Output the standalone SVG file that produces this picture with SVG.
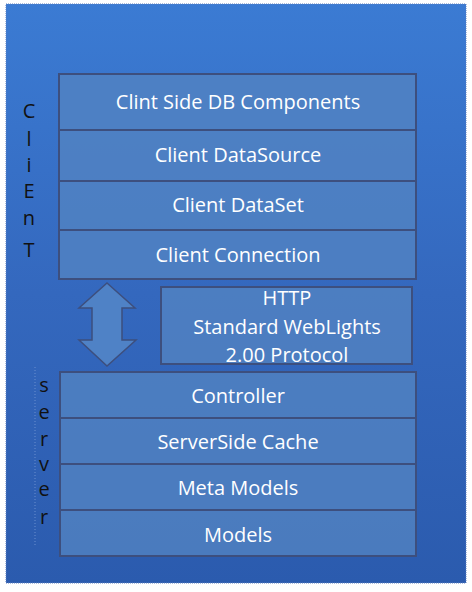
<svg xmlns="http://www.w3.org/2000/svg" width="472" height="592" viewBox="0 0 472 592">
<defs>
<linearGradient id="bg" x1="0" y1="0" x2="0" y2="1">
<stop offset="0" stop-color="#3b7bd3"/>
<stop offset="0.5" stop-color="#3468be"/>
<stop offset="1" stop-color="#2b5bae"/>
</linearGradient>
<style>
.box{fill:#5383c2;fill-opacity:0.8;stroke:#3d4f7e;stroke-width:2}
.lbl{font-family:"Open Sans","Liberation Sans",sans-serif;font-size:20px;fill:#ffffff;text-anchor:middle}
.side{font-family:"Open Sans","Liberation Sans",sans-serif;font-size:20px;fill:#111;text-anchor:middle}
</style>
</defs>
<rect x="6" y="4" width="460" height="579" fill="url(#bg)" stroke="#5a7fc0" stroke-width="1" stroke-dasharray="1 1"/>
<g id="client-label">
<text class="side" x="29" y="118">C</text>
<text class="side" x="29" y="146">l</text>
<text class="side" x="29" y="172">i</text>
<text class="side" x="29" y="198">E</text>
<text class="side" x="29" y="225">n</text>
<text class="side" x="29" y="257">T</text>
</g>
<g id="server-label">
<line x1="35" y1="367" x2="35" y2="545" stroke="#6a8fcf" stroke-width="1" stroke-dasharray="1 2"/>
<text class="side" x="44" y="392">s</text>
<text class="side" x="44" y="419">e</text>
<text class="side" x="44" y="446">r</text>
<text class="side" x="44" y="471">v</text>
<text class="side" x="44" y="496">e</text>
<text class="side" x="44" y="524">r</text>
</g>
<g id="n1"><rect class="box" x="59" y="74" width="357" height="56"/><text class="lbl" x="238" y="109">Clint Side DB Components</text></g>
<g id="n2"><rect class="box" x="59" y="130" width="357" height="51"/><text class="lbl" x="238" y="162">Client DataSource</text></g>
<g id="n3"><rect class="box" x="59" y="181" width="357" height="49"/><text class="lbl" x="238" y="212">Client DataSet</text></g>
<g id="n4"><rect class="box" x="59" y="230" width="357" height="49"/><text class="lbl" x="238" y="262">Client Connection</text></g>
<g id="n5"><rect class="box" x="161" y="287" width="251" height="77"/>
<text class="lbl" x="287" y="305">HTTP</text>
<text class="lbl" x="287" y="334">Standard WebLights</text>
<text class="lbl" x="287" y="362">2.00 Protocol</text></g>
<g id="connectors">
<polygon points="107,283 135,308 122,308 122,340 136,340 107,366 79,340 92,340 92,308 79,308" fill="#4f82c6" stroke="#3d4f7e" stroke-width="1.5"/>
</g>
<g id="n6"><rect class="box" x="60" y="372" width="356" height="46"/><text class="lbl" x="238" y="403">Controller</text></g>
<g id="n7"><rect class="box" x="60" y="418" width="356" height="46"/><text class="lbl" x="238" y="449">ServerSide Cache</text></g>
<g id="n8"><rect class="box" x="60" y="464" width="356" height="46"/><text class="lbl" x="238" y="495">Meta Models</text></g>
<g id="n9"><rect class="box" x="60" y="510" width="356" height="46"/><text class="lbl" x="238" y="542">Models</text></g>
</svg>
